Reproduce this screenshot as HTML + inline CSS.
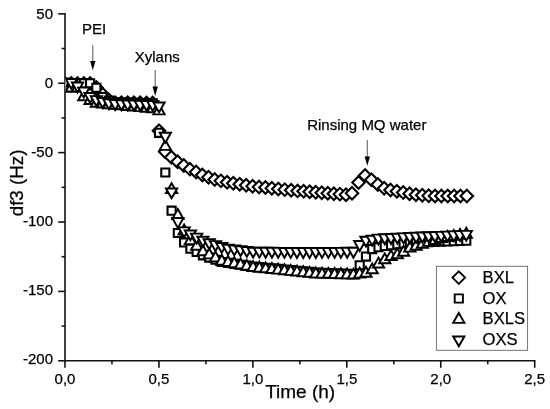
<!DOCTYPE html>
<html><head><meta charset="utf-8"><title>df3 vs Time</title>
<style>
html,body{margin:0;padding:0;background:#fff;}
body{width:550px;height:409px;overflow:hidden;}
svg{display:block;}
</style></head>
<body>
<svg width="550" height="409" viewBox="0 0 550 409">
<defs><clipPath id="pc"><rect x="65.6" y="0" width="484" height="360"/></clipPath></defs>
<rect width="550" height="409" fill="#fff"/>
<g stroke="#111" stroke-width="1.6" fill="none" stroke-linecap="butt">
<path d="M65.0 13.0V361.6"/>
<path d="M64.2 360.8H535.5"/>
<path d="M58.20 13.85H65.0"/>
<path d="M61.60 48.54H65.0"/>
<path d="M58.20 83.24H65.0"/>
<path d="M61.60 117.94H65.0"/>
<path d="M58.20 152.63H65.0"/>
<path d="M61.60 187.32H65.0"/>
<path d="M58.20 222.02H65.0"/>
<path d="M61.60 256.71H65.0"/>
<path d="M58.20 291.41H65.0"/>
<path d="M61.60 326.10H65.0"/>
<path d="M58.20 360.80H65.0"/>
<path d="M65.00 360.8V367.80"/>
<path d="M111.97 360.8V364.30"/>
<path d="M158.94 360.8V367.80"/>
<path d="M205.91 360.8V364.30"/>
<path d="M252.88 360.8V367.80"/>
<path d="M299.85 360.8V364.30"/>
<path d="M346.82 360.8V367.80"/>
<path d="M393.79 360.8V364.30"/>
<path d="M440.76 360.8V367.80"/>
<path d="M487.73 360.8V364.30"/>
<path d="M534.70 360.8V367.80"/>
</g>
<g clip-path="url(#pc)" fill="#fff" stroke="#000" stroke-width="2.10" stroke-linejoin="miter">
<path d="M65.00 77.13L71.25 83.38L65.00 89.63L58.75 83.38Z"/><path d="M71.27 77.13L77.52 83.38L71.27 89.63L65.02 83.38Z"/><path d="M77.53 77.13L83.78 83.38L77.53 89.63L71.28 83.38Z"/><path d="M83.80 77.13L90.05 83.38L83.80 89.63L77.55 83.38Z"/><path d="M90.07 77.13L96.32 83.38L90.07 89.63L83.82 83.38Z"/><path d="M96.33 81.15L102.58 87.40L96.33 93.65L90.08 87.40Z"/><path d="M102.60 88.09L108.85 94.34L102.60 100.59L96.35 94.34Z"/><path d="M108.87 93.64L115.12 99.89L108.87 106.14L102.62 99.89Z"/><path d="M115.13 96.42L121.38 102.67L115.13 108.92L108.88 102.67Z"/><path d="M121.40 96.47L127.65 102.72L121.40 108.97L115.15 102.72Z"/><path d="M127.67 96.51L133.92 102.76L127.67 109.01L121.42 102.76Z"/><path d="M133.93 96.56L140.18 102.81L133.93 109.06L127.68 102.81Z"/><path d="M140.20 96.60L146.45 102.85L140.20 109.10L133.95 102.85Z"/><path d="M146.47 96.65L152.72 102.90L146.47 109.15L140.22 102.90Z"/><path d="M152.73 96.70L158.98 102.95L152.73 109.20L146.48 102.95Z"/><path d="M159.00 124.59L165.25 130.84L159.00 137.09L152.75 130.84Z"/><path d="M165.19 145.41L171.44 151.66L165.19 157.91L158.94 151.66Z"/><path d="M171.38 151.10L177.63 157.35L171.38 163.60L165.13 157.35Z"/><path d="M177.57 155.40L183.82 161.65L177.57 167.90L171.32 161.65Z"/><path d="M183.77 159.15L190.02 165.40L183.77 171.65L177.52 165.40Z"/><path d="M189.96 162.89L196.21 169.14L189.96 175.39L183.71 169.14Z"/><path d="M196.15 165.81L202.40 172.06L196.15 178.31L189.90 172.06Z"/><path d="M202.34 168.72L208.59 174.97L202.34 181.22L196.09 174.97Z"/><path d="M208.53 170.94L214.78 177.19L208.53 183.44L202.28 177.19Z"/><path d="M214.73 173.16L220.98 179.41L214.73 185.66L208.48 179.41Z"/><path d="M220.92 174.62L227.17 180.87L220.92 187.12L214.67 180.87Z"/><path d="M227.11 176.08L233.36 182.33L227.11 188.58L220.86 182.33Z"/><path d="M233.30 177.05L239.55 183.30L233.30 189.55L227.05 183.30Z"/><path d="M239.73 178.02L245.98 184.27L239.73 190.52L233.48 184.27Z"/><path d="M246.16 178.99L252.41 185.24L246.16 191.49L239.91 185.24Z"/><path d="M252.59 179.96L258.84 186.21L252.59 192.46L246.34 186.21Z"/><path d="M259.02 180.65L265.27 186.90L259.02 193.15L252.77 186.90Z"/><path d="M265.45 181.33L271.70 187.58L265.45 193.83L259.20 187.58Z"/><path d="M271.88 182.01L278.13 188.26L271.88 194.51L265.63 188.26Z"/><path d="M278.31 182.70L284.56 188.95L278.31 195.20L272.06 188.95Z"/><path d="M284.74 183.38L290.99 189.63L284.74 195.88L278.49 189.63Z"/><path d="M291.17 184.06L297.42 190.31L291.17 196.56L284.92 190.31Z"/><path d="M297.60 184.64L303.85 190.89L297.60 197.14L291.35 190.89Z"/><path d="M303.64 185.10L309.89 191.35L303.64 197.60L297.39 191.35Z"/><path d="M309.69 185.56L315.94 191.81L309.69 198.06L303.44 191.81Z"/><path d="M315.73 186.02L321.98 192.27L315.73 198.52L309.48 192.27Z"/><path d="M321.78 186.49L328.03 192.74L321.78 198.99L315.53 192.74Z"/><path d="M327.82 186.95L334.07 193.20L327.82 199.45L321.57 193.20Z"/><path d="M333.87 187.41L340.12 193.66L333.87 199.91L327.62 193.66Z"/><path d="M339.91 187.88L346.16 194.13L339.91 200.38L333.66 194.13Z"/><path d="M345.96 188.43L352.21 194.68L345.96 200.93L339.71 194.68Z"/><path d="M352.00 186.90L358.25 193.15L352.00 199.40L345.75 193.15Z"/><path d="M358.55 176.22L364.80 182.47L358.55 188.72L352.30 182.47Z"/><path d="M365.10 169.28L371.35 175.53L365.10 181.78L358.85 175.53Z"/><path d="M371.46 173.44L377.71 179.69L371.46 185.94L365.21 179.69Z"/><path d="M377.81 178.30L384.06 184.55L377.81 190.80L371.56 184.55Z"/><path d="M384.17 181.91L390.42 188.16L384.17 194.41L377.92 188.16Z"/><path d="M390.52 183.71L396.77 189.96L390.52 196.21L384.27 189.96Z"/><path d="M396.88 184.96L403.13 191.21L396.88 197.46L390.63 191.21Z"/><path d="M403.23 186.21L409.48 192.46L403.23 198.71L396.98 192.46Z"/><path d="M409.59 187.46L415.84 193.71L409.59 199.96L403.34 193.71Z"/><path d="M415.94 188.43L422.19 194.68L415.94 200.93L409.69 194.68Z"/><path d="M422.30 188.99L428.55 195.24L422.30 201.49L416.05 195.24Z"/><path d="M428.66 189.40L434.91 195.65L428.66 201.90L422.41 195.65Z"/><path d="M435.01 189.68L441.26 195.93L435.01 202.18L428.76 195.93Z"/><path d="M441.37 189.71L447.62 195.96L441.37 202.21L435.12 195.96Z"/><path d="M447.73 189.73L453.98 195.98L447.73 202.23L441.48 195.98Z"/><path d="M454.09 189.76L460.34 196.01L454.09 202.26L447.84 196.01Z"/><path d="M460.44 189.79L466.69 196.04L460.44 202.29L454.19 196.04Z"/><path d="M466.80 189.82L473.05 196.07L466.80 202.32L460.55 196.07Z"/>
<path d="M60.95 79.19h8.1v8.1h-8.1Z"/><path d="M67.22 79.19h8.1v8.1h-8.1Z"/><path d="M73.49 79.19h8.1v8.1h-8.1Z"/><path d="M79.76 79.19h8.1v8.1h-8.1Z"/><path d="M86.03 79.19h8.1v8.1h-8.1Z"/><path d="M92.30 83.77h8.1v8.1h-8.1Z"/><path d="M98.57 93.07h8.1v8.1h-8.1Z"/><path d="M104.84 96.54h8.1v8.1h-8.1Z"/><path d="M111.11 98.34h8.1v8.1h-8.1Z"/><path d="M117.38 98.50h8.1v8.1h-8.1Z"/><path d="M123.65 98.67h8.1v8.1h-8.1Z"/><path d="M129.92 98.83h8.1v8.1h-8.1Z"/><path d="M136.19 98.99h8.1v8.1h-8.1Z"/><path d="M142.46 99.15h8.1v8.1h-8.1Z"/><path d="M148.73 99.31h8.1v8.1h-8.1Z"/><path d="M155.00 128.73h8.1v8.1h-8.1Z"/><path d="M161.27 168.43h8.1v8.1h-8.1Z"/><path d="M167.54 206.59h8.1v8.1h-8.1Z"/><path d="M173.81 228.93h8.1v8.1h-8.1Z"/><path d="M180.08 238.37h8.1v8.1h-8.1Z"/><path d="M186.35 244.62h8.1v8.1h-8.1Z"/><path d="M192.62 247.95h8.1v8.1h-8.1Z"/><path d="M198.89 251.28h8.1v8.1h-8.1Z"/><path d="M205.16 253.50h8.1v8.1h-8.1Z"/><path d="M211.43 255.72h8.1v8.1h-8.1Z"/><path d="M217.70 257.94h8.1v8.1h-8.1Z"/><path d="M223.97 258.85h8.1v8.1h-8.1Z"/><path d="M230.24 259.77h8.1v8.1h-8.1Z"/><path d="M236.51 260.69h8.1v8.1h-8.1Z"/><path d="M242.78 261.60h8.1v8.1h-8.1Z"/><path d="M249.05 262.52h8.1v8.1h-8.1Z"/><path d="M255.32 263.12h8.1v8.1h-8.1Z"/><path d="M261.59 263.71h8.1v8.1h-8.1Z"/><path d="M267.86 264.31h8.1v8.1h-8.1Z"/><path d="M274.13 264.91h8.1v8.1h-8.1Z"/><path d="M280.40 265.50h8.1v8.1h-8.1Z"/><path d="M286.67 266.10h8.1v8.1h-8.1Z"/><path d="M292.94 266.70h8.1v8.1h-8.1Z"/><path d="M299.21 267.29h8.1v8.1h-8.1Z"/><path d="M305.48 267.89h8.1v8.1h-8.1Z"/><path d="M311.75 268.49h8.1v8.1h-8.1Z"/><path d="M318.02 268.74h8.1v8.1h-8.1Z"/><path d="M324.29 268.99h8.1v8.1h-8.1Z"/><path d="M330.56 269.25h8.1v8.1h-8.1Z"/><path d="M336.83 269.50h8.1v8.1h-8.1Z"/><path d="M343.10 269.76h8.1v8.1h-8.1Z"/><path d="M349.37 270.01h8.1v8.1h-8.1Z"/><path d="M355.64 261.27h8.1v8.1h-8.1Z"/><path d="M361.91 252.53h8.1v8.1h-8.1Z"/><path d="M368.18 245.03h8.1v8.1h-8.1Z"/><path d="M374.45 243.09h8.1v8.1h-8.1Z"/><path d="M380.72 241.84h8.1v8.1h-8.1Z"/><path d="M386.99 241.08h8.1v8.1h-8.1Z"/><path d="M393.26 240.31h8.1v8.1h-8.1Z"/><path d="M399.53 239.55h8.1v8.1h-8.1Z"/><path d="M405.80 238.79h8.1v8.1h-8.1Z"/><path d="M412.07 238.56h8.1v8.1h-8.1Z"/><path d="M418.34 238.32h8.1v8.1h-8.1Z"/><path d="M424.61 238.09h8.1v8.1h-8.1Z"/><path d="M430.88 237.86h8.1v8.1h-8.1Z"/><path d="M437.15 237.63h8.1v8.1h-8.1Z"/><path d="M443.42 237.40h8.1v8.1h-8.1Z"/><path d="M449.69 237.17h8.1v8.1h-8.1Z"/><path d="M455.96 236.94h8.1v8.1h-8.1Z"/><path d="M462.23 236.71h8.1v8.1h-8.1Z"/>
<path stroke-width="1.95" d="M65.00 81.57L70.60 91.47L59.40 91.47Z"/><path stroke-width="1.95" d="M71.27 81.57L76.87 91.47L65.67 91.47Z"/><path stroke-width="1.95" d="M77.54 81.57L83.14 91.47L71.94 91.47Z"/><path stroke-width="1.95" d="M83.81 90.31L89.41 100.21L78.21 100.21Z"/><path stroke-width="1.95" d="M90.08 94.06L95.68 103.96L84.48 103.96Z"/><path stroke-width="1.95" d="M96.35 96.83L101.95 106.73L90.75 106.73Z"/><path stroke-width="1.95" d="M102.62 97.66L108.22 107.56L97.02 107.56Z"/><path stroke-width="1.95" d="M108.89 98.25L114.49 108.15L103.29 108.15Z"/><path stroke-width="1.95" d="M115.16 98.84L120.76 108.74L109.56 108.74Z"/><path stroke-width="1.95" d="M121.43 99.43L127.03 109.33L115.83 109.33Z"/><path stroke-width="1.95" d="M127.70 100.02L133.30 109.92L122.10 109.92Z"/><path stroke-width="1.95" d="M133.97 100.61L139.57 110.51L128.37 110.51Z"/><path stroke-width="1.95" d="M140.24 101.20L145.84 111.10L134.64 111.10Z"/><path stroke-width="1.95" d="M146.51 101.79L152.11 111.69L140.91 111.69Z"/><path stroke-width="1.95" d="M152.78 102.38L158.38 112.28L147.18 112.28Z"/><path stroke-width="1.95" d="M159.05 104.46L164.65 114.36L153.45 114.36Z"/><path stroke-width="1.95" d="M165.32 139.99L170.92 149.89L159.72 149.89Z"/><path stroke-width="1.95" d="M171.59 183.15L177.19 193.05L165.99 193.05Z"/><path stroke-width="1.95" d="M177.86 209.10L183.46 219.00L172.26 219.00Z"/><path stroke-width="1.95" d="M184.13 224.51L189.73 234.41L178.53 234.41Z"/><path stroke-width="1.95" d="M190.40 234.22L196.00 244.12L184.80 244.12Z"/><path stroke-width="1.95" d="M196.67 239.77L202.27 249.67L191.07 249.67Z"/><path stroke-width="1.95" d="M202.94 245.33L208.54 255.23L197.34 255.23Z"/><path stroke-width="1.95" d="M209.21 248.47L214.81 258.37L203.61 258.37Z"/><path stroke-width="1.95" d="M215.48 251.62L221.08 261.52L209.88 261.52Z"/><path stroke-width="1.95" d="M221.75 254.76L227.35 264.66L216.15 264.66Z"/><path stroke-width="1.95" d="M228.02 256.04L233.62 265.94L222.42 265.94Z"/><path stroke-width="1.95" d="M234.29 257.32L239.89 267.22L228.69 267.22Z"/><path stroke-width="1.95" d="M240.56 258.59L246.16 268.49L234.96 268.49Z"/><path stroke-width="1.95" d="M246.83 259.87L252.43 269.77L241.23 269.77Z"/><path stroke-width="1.95" d="M253.10 261.15L258.70 271.05L247.50 271.05Z"/><path stroke-width="1.95" d="M259.37 261.79L264.97 271.69L253.77 271.69Z"/><path stroke-width="1.95" d="M265.64 262.42L271.24 272.32L260.04 272.32Z"/><path stroke-width="1.95" d="M271.91 263.06L277.51 272.96L266.31 272.96Z"/><path stroke-width="1.95" d="M278.18 263.70L283.78 273.60L272.58 273.60Z"/><path stroke-width="1.95" d="M284.45 264.34L290.05 274.24L278.85 274.24Z"/><path stroke-width="1.95" d="M290.72 264.98L296.32 274.88L285.12 274.88Z"/><path stroke-width="1.95" d="M296.99 265.62L302.59 275.52L291.39 275.52Z"/><path stroke-width="1.95" d="M303.26 266.25L308.86 276.15L297.66 276.15Z"/><path stroke-width="1.95" d="M309.53 266.89L315.13 276.79L303.93 276.79Z"/><path stroke-width="1.95" d="M315.80 267.53L321.40 277.43L310.20 277.43Z"/><path stroke-width="1.95" d="M322.07 267.72L327.67 277.62L316.47 277.62Z"/><path stroke-width="1.95" d="M328.34 267.90L333.94 277.80L322.74 277.80Z"/><path stroke-width="1.95" d="M334.61 268.09L340.21 277.99L329.01 277.99Z"/><path stroke-width="1.95" d="M340.88 268.27L346.48 278.17L335.28 278.17Z"/><path stroke-width="1.95" d="M347.15 268.46L352.75 278.36L341.55 278.36Z"/><path stroke-width="1.95" d="M353.42 268.64L359.02 278.54L347.82 278.54Z"/><path stroke-width="1.95" d="M359.69 267.74L365.29 277.64L354.09 277.64Z"/><path stroke-width="1.95" d="M365.96 266.84L371.56 276.74L360.36 276.74Z"/><path stroke-width="1.95" d="M372.23 263.37L377.83 273.27L366.63 273.27Z"/><path stroke-width="1.95" d="M378.50 257.68L384.10 267.58L372.90 267.58Z"/><path stroke-width="1.95" d="M384.77 253.38L390.37 263.28L379.17 263.28Z"/><path stroke-width="1.95" d="M391.04 250.18L396.64 260.08L385.44 260.08Z"/><path stroke-width="1.95" d="M397.31 248.38L402.91 258.28L391.71 258.28Z"/><path stroke-width="1.95" d="M403.58 245.88L409.18 255.78L397.98 255.78Z"/><path stroke-width="1.95" d="M409.85 241.72L415.45 251.62L404.25 251.62Z"/><path stroke-width="1.95" d="M416.12 239.80L421.72 249.70L410.52 249.70Z"/><path stroke-width="1.95" d="M422.39 237.89L427.99 247.79L416.79 247.79Z"/><path stroke-width="1.95" d="M428.66 235.97L434.26 245.87L423.06 245.87Z"/><path stroke-width="1.95" d="M434.93 234.06L440.53 243.96L429.33 243.96Z"/><path stroke-width="1.95" d="M441.20 232.14L446.80 242.04L435.60 242.04Z"/><path stroke-width="1.95" d="M447.47 231.07L453.07 240.97L441.87 240.97Z"/><path stroke-width="1.95" d="M453.74 229.99L459.34 239.89L448.14 239.89Z"/><path stroke-width="1.95" d="M460.01 228.92L465.61 238.82L454.41 238.82Z"/><path stroke-width="1.95" d="M466.28 227.84L471.88 237.74L460.68 237.74Z"/>
<path stroke-width="1.95" d="M65.00 88.38L70.60 78.48L59.40 78.48Z"/><path stroke-width="1.95" d="M71.27 88.80L76.87 78.90L65.67 78.90Z"/><path stroke-width="1.95" d="M77.54 92.41L83.14 82.51L71.94 82.51Z"/><path stroke-width="1.95" d="M83.81 97.54L89.41 87.64L78.21 87.64Z"/><path stroke-width="1.95" d="M90.08 102.96L95.68 93.06L84.48 93.06Z"/><path stroke-width="1.95" d="M96.35 106.01L101.95 96.11L90.75 96.11Z"/><path stroke-width="1.95" d="M102.62 107.95L108.22 98.05L97.02 98.05Z"/><path stroke-width="1.95" d="M108.89 109.20L114.49 99.30L103.29 99.30Z"/><path stroke-width="1.95" d="M115.16 110.03L120.76 100.13L109.56 100.13Z"/><path stroke-width="1.95" d="M121.43 110.20L127.03 100.30L115.83 100.30Z"/><path stroke-width="1.95" d="M127.70 110.36L133.30 100.46L122.10 100.46Z"/><path stroke-width="1.95" d="M133.97 110.52L139.57 100.62L128.37 100.62Z"/><path stroke-width="1.95" d="M140.24 110.68L145.84 100.78L134.64 100.78Z"/><path stroke-width="1.95" d="M146.51 110.84L152.11 100.94L140.91 100.94Z"/><path stroke-width="1.95" d="M152.78 111.01L158.38 101.11L147.18 101.11Z"/><path stroke-width="1.95" d="M159.05 112.39L164.65 102.49L153.45 102.49Z"/><path stroke-width="1.95" d="M165.32 142.65L170.92 132.75L159.72 132.75Z"/><path stroke-width="1.95" d="M171.59 198.30L177.19 188.40L165.99 188.40Z"/><path stroke-width="1.95" d="M177.86 227.86L183.46 217.96L172.26 217.96Z"/><path stroke-width="1.95" d="M184.13 237.29L189.73 227.39L178.53 227.39Z"/><path stroke-width="1.95" d="M190.40 240.35L196.00 230.45L184.80 230.45Z"/><path stroke-width="1.95" d="M196.67 243.54L202.27 233.64L191.07 233.64Z"/><path stroke-width="1.95" d="M202.94 246.73L208.54 236.83L197.34 236.83Z"/><path stroke-width="1.95" d="M209.21 249.23L214.81 239.33L203.61 239.33Z"/><path stroke-width="1.95" d="M215.48 251.03L221.08 241.13L209.88 241.13Z"/><path stroke-width="1.95" d="M221.75 252.84L227.35 242.94L216.15 242.94Z"/><path stroke-width="1.95" d="M228.02 254.64L233.62 244.74L222.42 244.74Z"/><path stroke-width="1.95" d="M234.29 255.37L239.89 245.47L228.69 245.47Z"/><path stroke-width="1.95" d="M240.56 256.10L246.16 246.20L234.96 246.20Z"/><path stroke-width="1.95" d="M246.83 256.83L252.43 246.93L241.23 246.93Z"/><path stroke-width="1.95" d="M253.10 257.56L258.70 247.66L247.50 247.66Z"/><path stroke-width="1.95" d="M259.37 257.61L264.97 247.71L253.77 247.71Z"/><path stroke-width="1.95" d="M265.64 257.66L271.24 247.76L260.04 247.76Z"/><path stroke-width="1.95" d="M271.91 257.71L277.51 247.81L266.31 247.81Z"/><path stroke-width="1.95" d="M278.18 257.76L283.78 247.86L272.58 247.86Z"/><path stroke-width="1.95" d="M284.45 257.82L290.05 247.92L278.85 247.92Z"/><path stroke-width="1.95" d="M290.72 257.87L296.32 247.97L285.12 247.97Z"/><path stroke-width="1.95" d="M296.99 257.92L302.59 248.02L291.39 248.02Z"/><path stroke-width="1.95" d="M303.26 257.97L308.86 248.07L297.66 248.07Z"/><path stroke-width="1.95" d="M309.53 257.94L315.13 248.04L303.93 248.04Z"/><path stroke-width="1.95" d="M315.80 257.90L321.40 248.00L310.20 248.00Z"/><path stroke-width="1.95" d="M322.07 257.87L327.67 247.97L316.47 247.97Z"/><path stroke-width="1.95" d="M328.34 257.83L333.94 247.93L322.74 247.93Z"/><path stroke-width="1.95" d="M334.61 257.80L340.21 247.90L329.01 247.90Z"/><path stroke-width="1.95" d="M340.88 257.76L346.48 247.86L335.28 247.86Z"/><path stroke-width="1.95" d="M347.15 257.73L352.75 247.83L341.55 247.83Z"/><path stroke-width="1.95" d="M353.42 257.70L359.02 247.80L347.82 247.80Z"/><path stroke-width="1.95" d="M359.69 250.90L365.29 241.00L354.09 241.00Z"/><path stroke-width="1.95" d="M365.96 246.59L371.56 236.69L360.36 236.69Z"/><path stroke-width="1.95" d="M372.23 245.55L377.83 235.65L366.63 235.65Z"/><path stroke-width="1.95" d="M378.50 244.51L384.10 234.61L372.90 234.61Z"/><path stroke-width="1.95" d="M384.77 244.21L390.37 234.31L379.17 234.31Z"/><path stroke-width="1.95" d="M391.04 243.90L396.64 234.00L385.44 234.00Z"/><path stroke-width="1.95" d="M397.31 243.60L402.91 233.70L391.71 233.70Z"/><path stroke-width="1.95" d="M403.58 243.29L409.18 233.39L397.98 233.39Z"/><path stroke-width="1.95" d="M409.85 242.98L415.45 233.08L404.25 233.08Z"/><path stroke-width="1.95" d="M416.12 242.74L421.72 232.84L410.52 232.84Z"/><path stroke-width="1.95" d="M422.39 242.49L427.99 232.59L416.79 232.59Z"/><path stroke-width="1.95" d="M428.66 242.24L434.26 232.34L423.06 232.34Z"/><path stroke-width="1.95" d="M434.93 242.00L440.53 232.10L429.33 232.10Z"/><path stroke-width="1.95" d="M441.20 241.75L446.80 231.85L435.60 231.85Z"/><path stroke-width="1.95" d="M447.47 241.50L453.07 231.60L441.87 231.60Z"/><path stroke-width="1.95" d="M453.74 241.26L459.34 231.36L448.14 231.36Z"/><path stroke-width="1.95" d="M460.01 241.01L465.61 231.11L454.41 231.11Z"/><path stroke-width="1.95" d="M466.28 240.76L471.88 230.86L460.68 230.86Z"/>
</g>
<rect x="436.4" y="266.3" width="91.2" height="84.0" fill="#fff" stroke="#666" stroke-width="0.9"/><g fill="#fff" stroke="#000" stroke-width="1.9"><path d="M458.80 271.30L465.10 277.60L458.80 283.90L452.50 277.60Z"/><path d="M454.70 294.40h8.2v8.2h-8.2Z"/><path stroke-width="1.95" d="M458.80 312.95L464.40 322.85L453.20 322.85Z"/><path stroke-width="1.95" d="M458.80 346.35L464.40 336.45L453.20 336.45Z"/></g>
<path d="M92.80 45.20V63.70" stroke="#666" stroke-width="1.1" fill="none"/><path d="M90.10 60.90H95.50L92.80 70.30Z" fill="#000"/><path d="M155.20 70.10V89.30" stroke="#666" stroke-width="1.1" fill="none"/><path d="M152.50 86.50H157.90L155.20 95.90Z" fill="#000"/><path d="M367.30 140.10V159.20" stroke="#666" stroke-width="1.1" fill="none"/><path d="M364.60 156.40H370.00L367.30 165.80Z" fill="#000"/>
<g font-family="&quot;Liberation Sans&quot;, sans-serif" fill="#000" stroke="#000" stroke-width="0.25">
<text x="53" y="18.80" font-size="15" text-anchor="end">50</text>
<text x="53" y="87.90" font-size="15" text-anchor="end">0</text>
<text x="53" y="157.00" font-size="15" text-anchor="end">-50</text>
<text x="53" y="226.10" font-size="15" text-anchor="end">-100</text>
<text x="53" y="295.20" font-size="15" text-anchor="end">-150</text>
<text x="53" y="364.30" font-size="15" text-anchor="end">-200</text>
<text x="65.00" y="383.5" font-size="15" text-anchor="middle">0,0</text>
<text x="158.94" y="383.5" font-size="15" text-anchor="middle">0,5</text>
<text x="252.88" y="383.5" font-size="15" text-anchor="middle">1,0</text>
<text x="346.82" y="383.5" font-size="15" text-anchor="middle">1,5</text>
<text x="440.76" y="383.5" font-size="15" text-anchor="middle">2,0</text>
<text x="534.70" y="383.5" font-size="15" text-anchor="middle">2,5</text>
<text x="300.2" y="397.7" font-size="19" text-anchor="middle">Time (h)</text>
<text transform="translate(22.6 182.9) rotate(-90)" font-size="18.8" text-anchor="middle">df3 (Hz)</text>
<text x="94.2" y="33.9" font-size="15" text-anchor="middle">PEI</text>
<text x="157.3" y="61.8" font-size="15" text-anchor="middle">Xylans</text>
<text x="366.8" y="129.9" font-size="15" text-anchor="middle">Rinsing MQ water</text>
<text x="482.6" y="282.90" font-size="16.6">BXL</text>
<text x="482.6" y="303.65" font-size="16.6">OX</text>
<text x="482.6" y="324.40" font-size="16.6">BXLS</text>
<text x="482.6" y="345.15" font-size="16.6">OXS</text>
</g>
</svg>
</body></html>
